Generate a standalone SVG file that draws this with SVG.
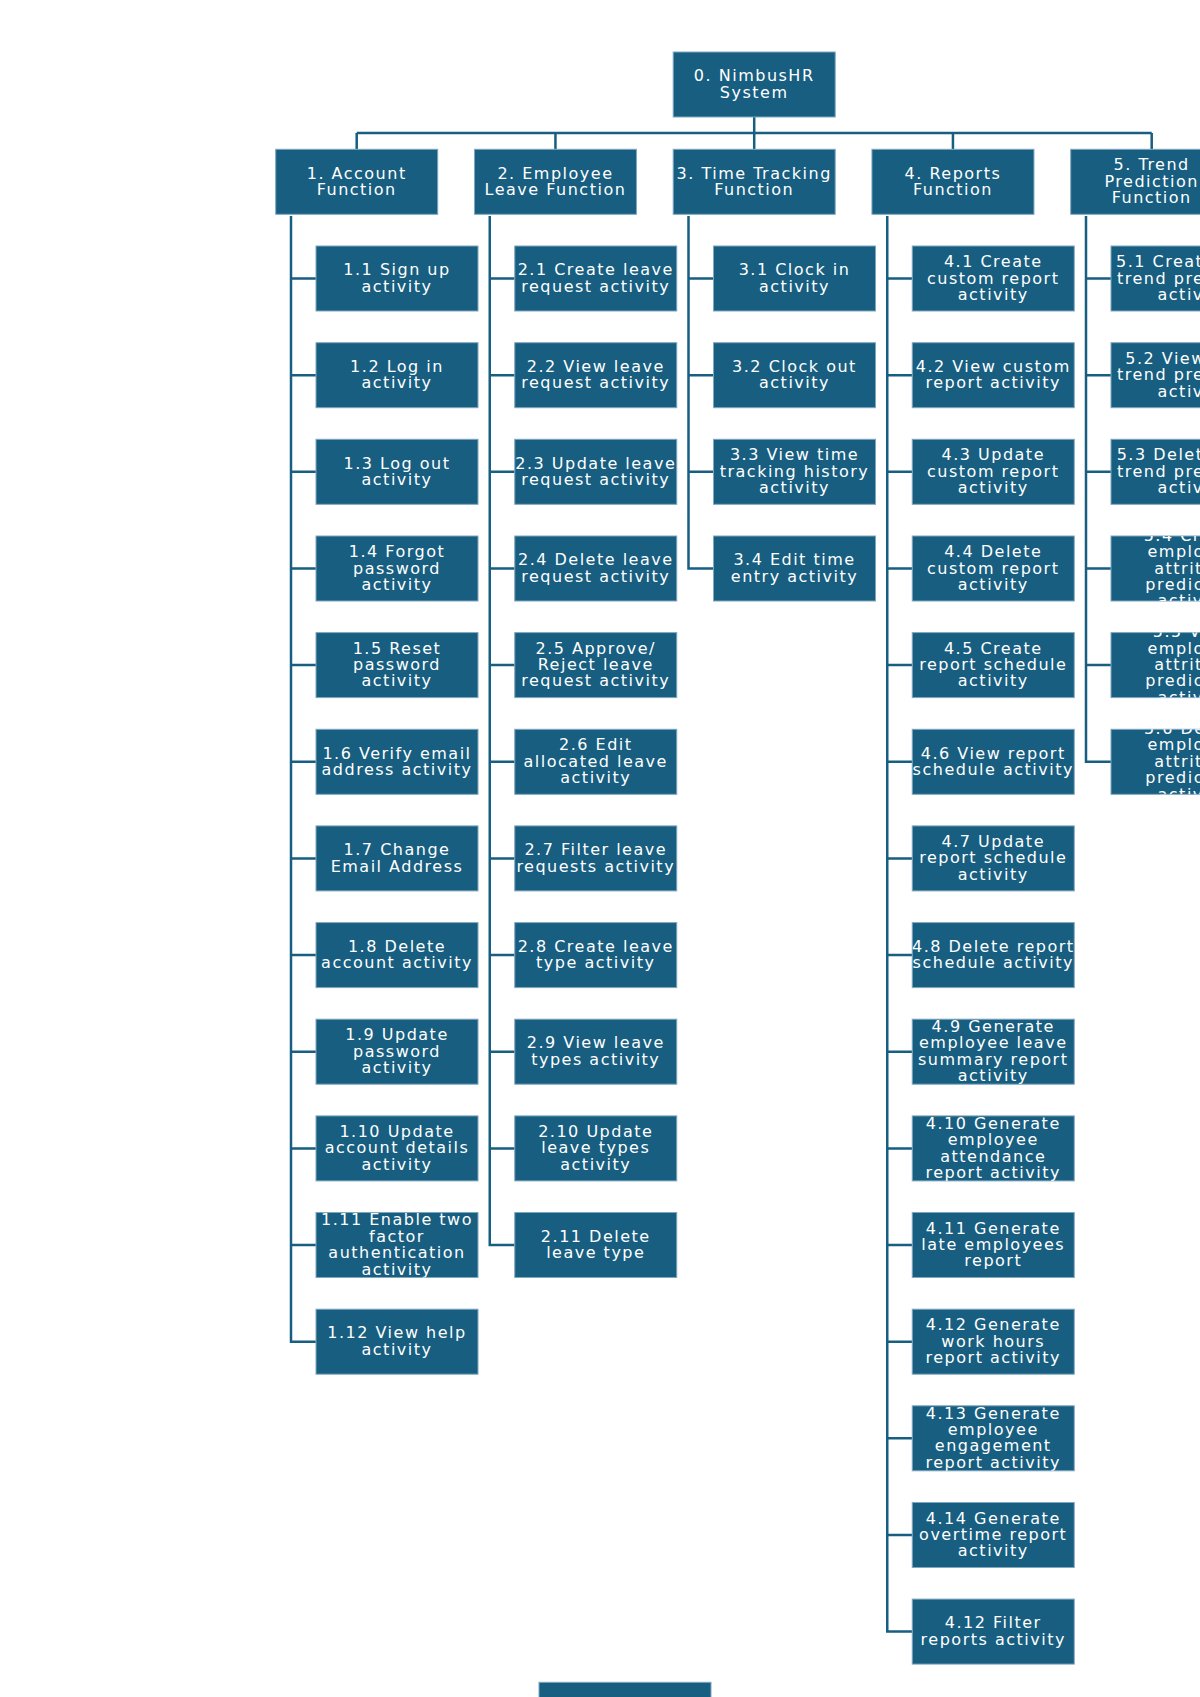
<svg xmlns="http://www.w3.org/2000/svg" width="1200" height="1697" viewBox="0 0 1200 1697">
<style>
.box{fill:#175e80;stroke:#7fa7bf;stroke-width:1}
.t{font-family:"DejaVu Sans","Verdana",sans-serif;font-size:16px;letter-spacing:1.5px;fill:#ffffff;text-anchor:middle}
.ts{text-anchor:start}
.c{fill:none;stroke:#175e80;stroke-width:2.5}
</style>
<rect x="0" y="0" width="1200" height="1697" fill="#ffffff"/>
<g id="connectors">
<path class="c" d="M754.2 117V133M356.7 133H1151.7M356.7 133V149.3M555.45 133V149.3M754.2 133V149.3M952.95 133V149.3M1151.7 133V149.3"/>
<path class="c" d="M291 216V1341.7H316M291 278.5H316M291 375.2H316M291 471.8H316M291 568.5H316M291 665.1H316M291 761.8H316M291 858.4H316M291 955.1H316M291 1051.7H316M291 1148.4H316M291 1245H316"/>
<path class="c" d="M489.75 216V1245H514.75M489.75 278.5H514.75M489.75 375.2H514.75M489.75 471.8H514.75M489.75 568.5H514.75M489.75 665.1H514.75M489.75 761.8H514.75M489.75 858.4H514.75M489.75 955.1H514.75M489.75 1051.7H514.75M489.75 1148.4H514.75"/>
<path class="c" d="M688.5 216V568.5H713.5M688.5 278.5H713.5M688.5 375.2H713.5M688.5 471.8H713.5"/>
<path class="c" d="M887.25 216V1631.6H912.25M887.25 278.5H912.25M887.25 375.2H912.25M887.25 471.8H912.25M887.25 568.5H912.25M887.25 665.1H912.25M887.25 761.8H912.25M887.25 858.4H912.25M887.25 955.1H912.25M887.25 1051.7H912.25M887.25 1148.4H912.25M887.25 1245H912.25M887.25 1341.7H912.25M887.25 1438.3H912.25M887.25 1535H912.25"/>
<path class="c" d="M1086 216V761.8H1111M1086 278.5H1111M1086 375.2H1111M1086 471.8H1111M1086 568.5H1111M1086 665.1H1111"/>
</g>

<g id="n0"><rect class="box" x="673.2" y="52" width="162" height="65"/><svg x="673.2" y="52" width="162" height="65"><text class="t"><tspan x="81" y="29.3">0. NimbusHR</tspan><tspan x="81" y="45.7">System</tspan></text></svg></g>

<g id="n1"><rect class="box" x="275.7" y="149.3" width="162" height="65"/><svg x="275.7" y="149.3" width="162" height="65"><text class="t"><tspan x="81" y="29.3">1. Account</tspan><tspan x="81" y="45.7">Function</tspan></text></svg></g>
<g id="n2"><rect class="box" x="474.45" y="149.3" width="162" height="65"/><svg x="474.45" y="149.3" width="162" height="65"><text class="t"><tspan x="81" y="29.3">2. Employee</tspan><tspan x="81" y="45.7">Leave Function</tspan></text></svg></g>
<g id="n3"><rect class="box" x="673.2" y="149.3" width="162" height="65"/><svg x="673.2" y="149.3" width="162" height="65"><text class="t"><tspan x="81" y="29.3">3. Time Tracking</tspan><tspan x="81" y="45.7">Function</tspan></text></svg></g>
<g id="n4"><rect class="box" x="871.95" y="149.3" width="162" height="65"/><svg x="871.95" y="149.3" width="162" height="65"><text class="t"><tspan x="81" y="29.3">4. Reports</tspan><tspan x="81" y="45.7">Function</tspan></text></svg></g>
<g id="n5"><rect class="box" x="1070.7" y="149.3" width="162" height="65"/><svg x="1070.7" y="149.3" width="162" height="65"><text class="t"><tspan x="81" y="21.1">5. Trend</tspan><tspan x="81" y="37.5">Prediction</tspan><tspan x="81" y="53.9">Function</tspan></text></svg></g>

<g id="n1-1"><rect class="box" x="316" y="246" width="162" height="65"/><svg x="316" y="246" width="162" height="65"><text class="t"><tspan x="81" y="29.3">1.1 Sign up</tspan><tspan x="81" y="45.7">activity</tspan></text></svg></g>
<g id="n1-2"><rect class="box" x="316" y="342.7" width="162" height="65"/><svg x="316" y="342.7" width="162" height="65"><text class="t"><tspan x="81" y="29.3">1.2 Log in</tspan><tspan x="81" y="45.7">activity</tspan></text></svg></g>
<g id="n1-3"><rect class="box" x="316" y="439.3" width="162" height="65"/><svg x="316" y="439.3" width="162" height="65"><text class="t"><tspan x="81" y="29.3">1.3 Log out</tspan><tspan x="81" y="45.7">activity</tspan></text></svg></g>
<g id="n1-4"><rect class="box" x="316" y="536" width="162" height="65"/><svg x="316" y="536" width="162" height="65"><text class="t"><tspan x="81" y="21.1">1.4 Forgot</tspan><tspan x="81" y="37.5">password</tspan><tspan x="81" y="53.9">activity</tspan></text></svg></g>
<g id="n1-5"><rect class="box" x="316" y="632.6" width="162" height="65"/><svg x="316" y="632.6" width="162" height="65"><text class="t"><tspan x="81" y="21.1">1.5 Reset</tspan><tspan x="81" y="37.5">password</tspan><tspan x="81" y="53.9">activity</tspan></text></svg></g>
<g id="n1-6"><rect class="box" x="316" y="729.3" width="162" height="65"/><svg x="316" y="729.3" width="162" height="65"><text class="t"><tspan x="81" y="29.3">1.6 Verify email</tspan><tspan x="81" y="45.7">address activity</tspan></text></svg></g>
<g id="n1-7"><rect class="box" x="316" y="825.9" width="162" height="65"/><svg x="316" y="825.9" width="162" height="65"><text class="t"><tspan x="81" y="29.3">1.7 Change</tspan><tspan x="81" y="45.7">Email Address</tspan></text></svg></g>
<g id="n1-8"><rect class="box" x="316" y="922.6" width="162" height="65"/><svg x="316" y="922.6" width="162" height="65"><text class="t"><tspan x="81" y="29.3">1.8 Delete</tspan><tspan x="81" y="45.7">account activity</tspan></text></svg></g>
<g id="n1-9"><rect class="box" x="316" y="1019.2" width="162" height="65"/><svg x="316" y="1019.2" width="162" height="65"><text class="t"><tspan x="81" y="21.1">1.9 Update</tspan><tspan x="81" y="37.5">password</tspan><tspan x="81" y="53.9">activity</tspan></text></svg></g>
<g id="n1-10"><rect class="box" x="316" y="1115.9" width="162" height="65"/><svg x="316" y="1115.9" width="162" height="65"><text class="t"><tspan x="81" y="21.1">1.10 Update</tspan><tspan x="81" y="37.5">account details</tspan><tspan x="81" y="53.9">activity</tspan></text></svg></g>
<g id="n1-11"><rect class="box" x="316" y="1212.5" width="162" height="65"/><svg x="316" y="1212.5" width="162" height="65"><text class="t"><tspan x="81" y="12.9">1.11 Enable two</tspan><tspan x="81" y="29.3">factor</tspan><tspan x="81" y="45.7">authentication</tspan><tspan x="81" y="62.1">activity</tspan></text></svg></g>
<g id="n1-12"><rect class="box" x="316" y="1309.2" width="162" height="65"/><svg x="316" y="1309.2" width="162" height="65"><text class="t"><tspan x="81" y="29.3">1.12 View help</tspan><tspan x="81" y="45.7">activity</tspan></text></svg></g>

<g id="n2-1"><rect class="box" x="514.75" y="246" width="162" height="65"/><svg x="514.75" y="246" width="162" height="65"><text class="t"><tspan x="81" y="29.3">2.1 Create leave</tspan><tspan x="81" y="45.7">request activity</tspan></text></svg></g>
<g id="n2-2"><rect class="box" x="514.75" y="342.7" width="162" height="65"/><svg x="514.75" y="342.7" width="162" height="65"><text class="t"><tspan x="81" y="29.3">2.2 View leave</tspan><tspan x="81" y="45.7">request activity</tspan></text></svg></g>
<g id="n2-3"><rect class="box" x="514.75" y="439.3" width="162" height="65"/><svg x="514.75" y="439.3" width="162" height="65"><text class="t"><tspan x="81" y="29.3">2.3 Update leave</tspan><tspan x="81" y="45.7">request activity</tspan></text></svg></g>
<g id="n2-4"><rect class="box" x="514.75" y="536" width="162" height="65"/><svg x="514.75" y="536" width="162" height="65"><text class="t"><tspan x="81" y="29.3">2.4 Delete leave</tspan><tspan x="81" y="45.7">request activity</tspan></text></svg></g>
<g id="n2-5"><rect class="box" x="514.75" y="632.6" width="162" height="65"/><svg x="514.75" y="632.6" width="162" height="65"><text class="t"><tspan x="81" y="21.1">2.5 Approve/</tspan><tspan x="81" y="37.5">Reject leave</tspan><tspan x="81" y="53.9">request activity</tspan></text></svg></g>
<g id="n2-6"><rect class="box" x="514.75" y="729.3" width="162" height="65"/><svg x="514.75" y="729.3" width="162" height="65"><text class="t"><tspan x="81" y="21.1">2.6 Edit</tspan><tspan x="81" y="37.5">allocated leave</tspan><tspan x="81" y="53.9">activity</tspan></text></svg></g>
<g id="n2-7"><rect class="box" x="514.75" y="825.9" width="162" height="65"/><svg x="514.75" y="825.9" width="162" height="65"><text class="t"><tspan x="81" y="29.3">2.7 Filter leave</tspan><tspan x="81" y="45.7">requests activity</tspan></text></svg></g>
<g id="n2-8"><rect class="box" x="514.75" y="922.6" width="162" height="65"/><svg x="514.75" y="922.6" width="162" height="65"><text class="t"><tspan x="81" y="29.3">2.8 Create leave</tspan><tspan x="81" y="45.7">type activity</tspan></text></svg></g>
<g id="n2-9"><rect class="box" x="514.75" y="1019.2" width="162" height="65"/><svg x="514.75" y="1019.2" width="162" height="65"><text class="t"><tspan x="81" y="29.3">2.9 View leave</tspan><tspan x="81" y="45.7">types activity</tspan></text></svg></g>
<g id="n2-10"><rect class="box" x="514.75" y="1115.9" width="162" height="65"/><svg x="514.75" y="1115.9" width="162" height="65"><text class="t"><tspan x="81" y="21.1">2.10 Update</tspan><tspan x="81" y="37.5">leave types</tspan><tspan x="81" y="53.9">activity</tspan></text></svg></g>
<g id="n2-11"><rect class="box" x="514.75" y="1212.5" width="162" height="65"/><svg x="514.75" y="1212.5" width="162" height="65"><text class="t"><tspan x="81" y="29.3">2.11 Delete</tspan><tspan x="81" y="45.7">leave type</tspan></text></svg></g>

<g id="n3-1"><rect class="box" x="713.5" y="246" width="162" height="65"/><svg x="713.5" y="246" width="162" height="65"><text class="t"><tspan x="81" y="29.3">3.1 Clock in</tspan><tspan x="81" y="45.7">activity</tspan></text></svg></g>
<g id="n3-2"><rect class="box" x="713.5" y="342.7" width="162" height="65"/><svg x="713.5" y="342.7" width="162" height="65"><text class="t"><tspan x="81" y="29.3">3.2 Clock out</tspan><tspan x="81" y="45.7">activity</tspan></text></svg></g>
<g id="n3-3"><rect class="box" x="713.5" y="439.3" width="162" height="65"/><svg x="713.5" y="439.3" width="162" height="65"><text class="t"><tspan x="81" y="21.1">3.3 View time</tspan><tspan x="81" y="37.5">tracking history</tspan><tspan x="81" y="53.9">activity</tspan></text></svg></g>
<g id="n3-4"><rect class="box" x="713.5" y="536" width="162" height="65"/><svg x="713.5" y="536" width="162" height="65"><text class="t"><tspan x="81" y="29.3">3.4 Edit time</tspan><tspan x="81" y="45.7">entry activity</tspan></text></svg></g>

<g id="n4-1"><rect class="box" x="912.25" y="246" width="162" height="65"/><svg x="912.25" y="246" width="162" height="65"><text class="t"><tspan x="81" y="21.1">4.1 Create</tspan><tspan x="81" y="37.5">custom report</tspan><tspan x="81" y="53.9">activity</tspan></text></svg></g>
<g id="n4-2"><rect class="box" x="912.25" y="342.7" width="162" height="65"/><svg x="912.25" y="342.7" width="162" height="65"><text class="t"><tspan x="81" y="29.3">4.2 View custom</tspan><tspan x="81" y="45.7">report activity</tspan></text></svg></g>
<g id="n4-3"><rect class="box" x="912.25" y="439.3" width="162" height="65"/><svg x="912.25" y="439.3" width="162" height="65"><text class="t"><tspan x="81" y="21.1">4.3 Update</tspan><tspan x="81" y="37.5">custom report</tspan><tspan x="81" y="53.9">activity</tspan></text></svg></g>
<g id="n4-4"><rect class="box" x="912.25" y="536" width="162" height="65"/><svg x="912.25" y="536" width="162" height="65"><text class="t"><tspan x="81" y="21.1">4.4 Delete</tspan><tspan x="81" y="37.5">custom report</tspan><tspan x="81" y="53.9">activity</tspan></text></svg></g>
<g id="n4-5"><rect class="box" x="912.25" y="632.6" width="162" height="65"/><svg x="912.25" y="632.6" width="162" height="65"><text class="t"><tspan x="81" y="21.1">4.5 Create</tspan><tspan x="81" y="37.5">report schedule</tspan><tspan x="81" y="53.9">activity</tspan></text></svg></g>
<g id="n4-6"><rect class="box" x="912.25" y="729.3" width="162" height="65"/><svg x="912.25" y="729.3" width="162" height="65"><text class="t"><tspan x="81" y="29.3">4.6 View report</tspan><tspan x="81" y="45.7">schedule activity</tspan></text></svg></g>
<g id="n4-7"><rect class="box" x="912.25" y="825.9" width="162" height="65"/><svg x="912.25" y="825.9" width="162" height="65"><text class="t"><tspan x="81" y="21.1">4.7 Update</tspan><tspan x="81" y="37.5">report schedule</tspan><tspan x="81" y="53.9">activity</tspan></text></svg></g>
<g id="n4-8"><rect class="box" x="912.25" y="922.6" width="162" height="65"/><svg x="912.25" y="922.6" width="162" height="65"><text class="t"><tspan x="81" y="29.3">4.8 Delete report</tspan><tspan x="81" y="45.7">schedule activity</tspan></text></svg></g>
<g id="n4-9"><rect class="box" x="912.25" y="1019.2" width="162" height="65"/><svg x="912.25" y="1019.2" width="162" height="65"><text class="t"><tspan x="81" y="12.9">4.9 Generate</tspan><tspan x="81" y="29.3">employee leave</tspan><tspan x="81" y="45.7">summary report</tspan><tspan x="81" y="62.1">activity</tspan></text></svg></g>
<g id="n4-10"><rect class="box" x="912.25" y="1115.9" width="162" height="65"/><svg x="912.25" y="1115.9" width="162" height="65"><text class="t"><tspan x="81" y="12.9">4.10 Generate</tspan><tspan x="81" y="29.3">employee</tspan><tspan x="81" y="45.7">attendance</tspan><tspan x="81" y="62.1">report activity</tspan></text></svg></g>
<g id="n4-11"><rect class="box" x="912.25" y="1212.5" width="162" height="65"/><svg x="912.25" y="1212.5" width="162" height="65"><text class="t"><tspan x="81" y="21.1">4.11 Generate</tspan><tspan x="81" y="37.5">late employees</tspan><tspan x="81" y="53.9">report</tspan></text></svg></g>
<g id="n4-12"><rect class="box" x="912.25" y="1309.2" width="162" height="65"/><svg x="912.25" y="1309.2" width="162" height="65"><text class="t"><tspan x="81" y="21.1">4.12 Generate</tspan><tspan x="81" y="37.5">work hours</tspan><tspan x="81" y="53.9">report activity</tspan></text></svg></g>
<g id="n4-13"><rect class="box" x="912.25" y="1405.8" width="162" height="65"/><svg x="912.25" y="1405.8" width="162" height="65"><text class="t"><tspan x="81" y="12.9">4.13 Generate</tspan><tspan x="81" y="29.3">employee</tspan><tspan x="81" y="45.7">engagement</tspan><tspan x="81" y="62.1">report activity</tspan></text></svg></g>
<g id="n4-14"><rect class="box" x="912.25" y="1502.5" width="162" height="65"/><svg x="912.25" y="1502.5" width="162" height="65"><text class="t"><tspan x="81" y="21.1">4.14 Generate</tspan><tspan x="81" y="37.5">overtime report</tspan><tspan x="81" y="53.9">activity</tspan></text></svg></g>
<g id="n4-15"><rect class="box" x="912.25" y="1599.1" width="162" height="65"/><svg x="912.25" y="1599.1" width="162" height="65"><text class="t"><tspan x="81" y="29.3">4.12 Filter</tspan><tspan x="81" y="45.7">reports activity</tspan></text></svg></g>

<g id="n5-1"><rect class="box" x="1111" y="246" width="162" height="65"/><svg x="1111" y="246" width="162" height="65"><text class="t"><tspan class="ts" x="5" y="21.1">5.1 Create</tspan><tspan x="82" y="37.5">trend prediction</tspan><tspan x="82" y="53.9">activity</tspan></text></svg></g>
<g id="n5-2"><rect class="box" x="1111" y="342.7" width="162" height="65"/><svg x="1111" y="342.7" width="162" height="65"><text class="t"><tspan class="ts" x="14.3" y="21.1">5.2 View</tspan><tspan x="82" y="37.5">trend prediction</tspan><tspan x="82" y="53.9">activity</tspan></text></svg></g>
<g id="n5-3"><rect class="box" x="1111" y="439.3" width="162" height="65"/><svg x="1111" y="439.3" width="162" height="65"><text class="t"><tspan class="ts" x="5.7" y="21.1">5.3 Delete</tspan><tspan x="82" y="37.5">trend prediction</tspan><tspan x="82" y="53.9">activity</tspan></text></svg></g>
<g id="n5-4"><rect class="box" x="1111" y="536" width="162" height="65"/><svg x="1111" y="536" width="162" height="65"><text class="t"><tspan x="82" y="4.7">5.4 Create</tspan><tspan x="82" y="21.1">employee</tspan><tspan x="82" y="37.5">attrition</tspan><tspan x="82" y="53.9">prediction</tspan><tspan x="82" y="70.3">activity</tspan></text></svg></g>
<g id="n5-5"><rect class="box" x="1111" y="632.6" width="162" height="65"/><svg x="1111" y="632.6" width="162" height="65"><text class="t"><tspan x="82" y="4.7">5.5 View</tspan><tspan x="82" y="21.1">employee</tspan><tspan x="82" y="37.5">attrition</tspan><tspan x="82" y="53.9">prediction</tspan><tspan x="82" y="70.3">activity</tspan></text></svg></g>
<g id="n5-6"><rect class="box" x="1111" y="729.3" width="162" height="65"/><svg x="1111" y="729.3" width="162" height="65"><text class="t"><tspan x="82" y="4.7">5.6 Delete</tspan><tspan x="82" y="21.1">employee</tspan><tspan x="82" y="37.5">attrition</tspan><tspan x="82" y="53.9">prediction</tspan><tspan x="82" y="70.3">activity</tspan></text></svg></g>

<g id="n-next"><rect class="box" x="539" y="1682.3" width="172" height="30"/></g>
</svg>
